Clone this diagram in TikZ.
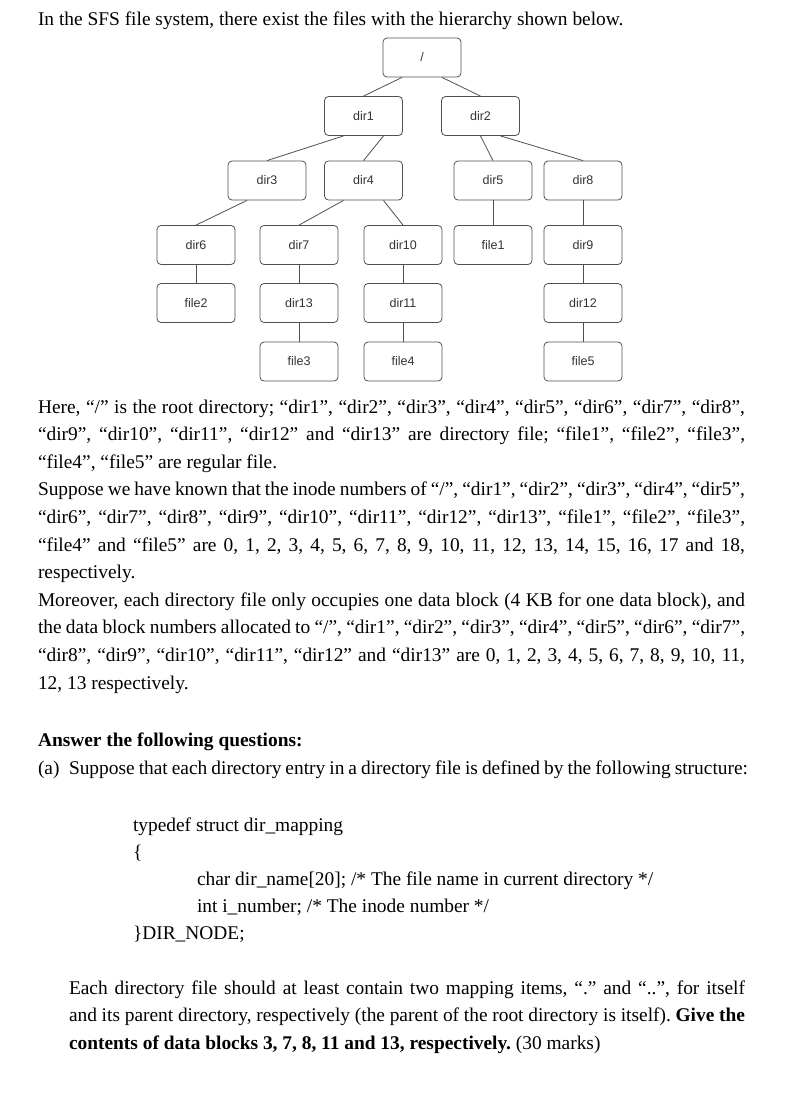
\documentclass[tikz,border=0pt]{standalone}
\usepackage{fontspec}
\setmainfont{Liberation Serif}
\newfontfamily\nodefont{Liberation Sans}
\definecolor{boxc}{HTML}{505050}
\definecolor{txtc}{HTML}{333333}
\begin{document}
\frenchspacing
\begin{tikzpicture}[x=1pt,y=-1pt,
  fbox/.style={draw=boxc, line width=0.8pt, rounded corners=4pt, minimum width=78pt, minimum height=39pt, inner sep=0pt, font=\nodefont\fontsize{12.5}{14}\selectfont, text=txtc},
  link/.style={draw=boxc, line width=0.8pt},
  body/.style={anchor=base west, inner sep=0pt, outer sep=0pt, font=\fontsize{19.4}{27.6}\selectfont\frenchspacing}]
\fill[white] (0,0) rectangle (804,1108);
\path[use as bounding box] (0,0) rectangle (804,1108);

% tree
\node[fbox] (root) at (422,57.5) {/};
\node[fbox] (dir1) at (363.5,116) {dir1};
\node[fbox] (dir2) at (480.5,116) {dir2};
\node[fbox] (dir3) at (267,180.5) {dir3};
\node[fbox] (dir4) at (363.5,180.5) {dir4};
\node[fbox] (dir5) at (493,180.5) {dir5};
\node[fbox] (dir8) at (583,180.5) {dir8};
\node[fbox] (dir6) at (196,245) {dir6};
\node[fbox] (dir7) at (299,245) {dir7};
\node[fbox] (dir10) at (403,245) {dir10};
\node[fbox] (file1) at (493,245) {file1};
\node[fbox] (dir9) at (583,245) {dir9};
\node[fbox] (file2) at (196,303) {file2};
\node[fbox] (dir13) at (299,303) {dir13};
\node[fbox] (dir11) at (403,303) {dir11};
\node[fbox] (dir12) at (583,303) {dir12};
\node[fbox] (file3) at (299,361.5) {file3};
\node[fbox] (file4) at (403,361.5) {file4};
\node[fbox] (file5) at (583,361.5) {file5};

\draw[link] ([xshift=-20pt]root.south) -- (dir1.north);
\draw[link] ([xshift=20pt]root.south) -- (dir2.north);
\draw[link] ([xshift=-20pt]dir1.south) -- (dir3.north);
\draw[link] ([xshift=20pt]dir1.south) -- (dir4.north);
\draw[link] (dir2.south) -- (dir5.north);
\draw[link] ([xshift=20pt]dir2.south) -- (dir8.north);
\draw[link] ([xshift=-20pt]dir3.south) -- (dir6.north);
\draw[link] ([xshift=-20pt]dir4.south) -- (dir7.north);
\draw[link] ([xshift=20pt]dir4.south) -- (dir10.north);
\draw[link] (dir5) -- (file1);
\draw[link] (dir8) -- (dir9);
\draw[link] (dir9) -- (dir12);
\draw[link] (dir12) -- (file5);
\draw[link] (dir6) -- (file2);
\draw[link] (dir7) -- (dir13);
\draw[link] (dir13) -- (file3);
\draw[link] (dir10) -- (dir11);
\draw[link] (dir11) -- (file4);

% text
\node[body] (t0) at (38,25.5) {In the SFS file system, there exist the files with the hierarchy shown below.};

\node[body] (p1) at (38,413) {\makebox[707pt][s]{Here, “/” is the root directory; “dir1”, “dir2”, “dir3”, “dir4”, “dir5”, “dir6”, “dir7”, “dir8”,}};
\node[body] (p2) at (38,440.6) {\makebox[707pt][s]{“dir9”, “dir10”, “dir11”, “dir12” and “dir13” are directory file; “file1”, “file2”, “file3”,}};
\node[body] (p3) at (38,468.2) {“file4”, “file5” are regular file.};
\node[body] (p4) at (38,495.8) {\makebox[707pt][s]{Suppose we have known that the inode numbers of “/”, “dir1”, “dir2”, “dir3”, “dir4”, “dir5”,}};
\node[body] (p5) at (38,523.4) {\makebox[707pt][s]{“dir6”, “dir7”, “dir8”, “dir9”, “dir10”, “dir11”, “dir12”, “dir13”, “file1”, “file2”, “file3”,}};
\node[body] (p6) at (38,551) {\makebox[707pt][s]{“file4” and “file5” are 0, 1, 2, 3, 4, 5, 6, 7, 8, 9, 10, 11, 12, 13, 14, 15, 16, 17 and 18,}};
\node[body] (p7) at (38,578.6) {respectively.};
\node[body] (p8) at (38,606.2) {\makebox[707pt][s]{Moreover, each directory file only occupies one data block (4 KB for one data block), and}};
\node[body] (p9) at (38,633.8) {\makebox[707pt][s]{the data block numbers allocated to “/”, “dir1”, “dir2”, “dir3”, “dir4”, “dir5”, “dir6”, “dir7”,}};
\node[body] (p10) at (38,661.4) {\makebox[707pt][s]{“dir8”, “dir9”, “dir10”, “dir11”, “dir12” and “dir13” are 0, 1, 2, 3, 4, 5, 6, 7, 8, 9, 10, 11,}};
\node[body] (p11) at (38,689) {12, 13 respectively.};

\node[body] (q0) at (38,746.5) {\textbf{Answer the following questions:}};
\node[body] (qa) at (38,774) {(a)};
\node[body] (qa1) at (69,774) {\makebox[679pt][s]{Suppose that each directory entry in a directory file is defined by the following structure:}};

\node[body] (c1) at (133,831) {typedef struct dir\_mapping};
\node[body] (c2) at (133,858) {\{};
\node[body] (c3) at (197,885) {char dir\_name[20]; /* The file name in current directory */};
\node[body] (c4) at (197,912) {int i\_number; /* The inode number */};
\node[body] (c5) at (133,939) {\}DIR\_NODE;};

\node[body] (e1) at (69,994) {\makebox[676pt][s]{Each directory file should at least contain two mapping items, “.” and “..”, for itself}};
\node[body] (e2) at (69,1021.6) {\makebox[676pt][s]{and its parent directory, respectively (the parent of the root directory is itself). \textbf{Give the}}};
\node[body] (e3) at (69,1049.2) {\textbf{contents of data blocks 3, 7, 8, 11 and 13, respectively.} (30 marks)};
\end{tikzpicture}
\end{document}
